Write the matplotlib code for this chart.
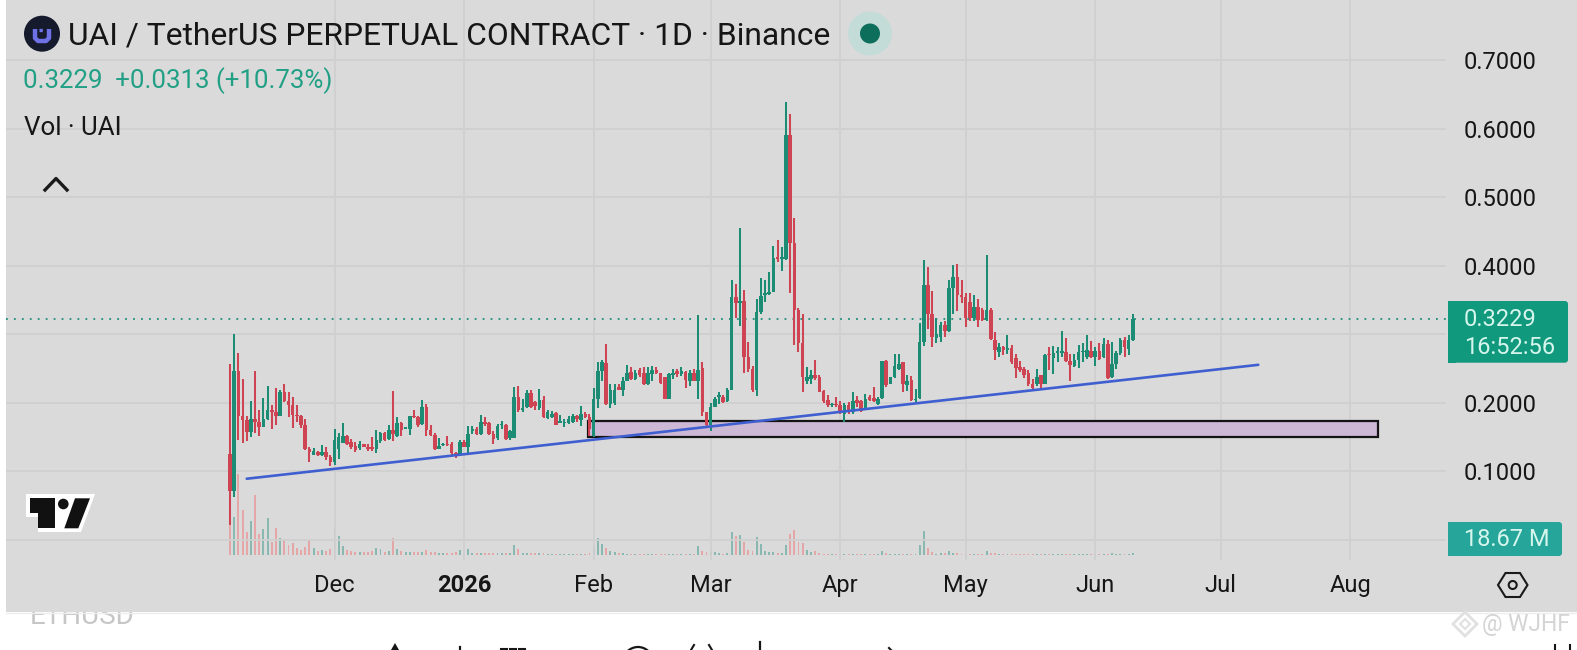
import matplotlib
matplotlib.use("Agg")
import matplotlib.pyplot as plt
from matplotlib.patches import Polygon, Circle, Rectangle, FancyBboxPatch
import numpy as np

plt.rcParams['font.family'] = ['Roboto', 'DejaVu Sans']

W, H = 1577, 650
SYMBOL = "UAI / TetherUS PERPETUAL CONTRACT · 1D · Binance"
QUOTE = "0.3229  +0.0313 (+10.73%)"
VOL_NAME = "Vol · UAI"
LAST_PRICE = 0.3229

opens = [
 .125,.071,.246,.181,.175,.157,.176,.172,.165,.176,.190,.187,.181,.216,.202,.196,.182,.180,.168,.133,
 .124,.128,.124,.128,.121,.113,.133,.141,.151,.142,.137,.134,.139,.136,.135,.133,.144,.156,.147,.160,
 .152,.170,.162,.162,.181,.179,.169,.193,.160,.153,.133,.138,.140,.140,.126,.125,.143,.136,.158,.161,
 .154,.172,.170,.154,.148,.167,.168,.148,.148,.208,.189,.193,.214,.201,.192,.204,.177,.179,.185,.171,
 .170,.171,.172,.180,.175,.184,.179,.151,.206,.247,.258,.198,.200,.223,.218,.232,.245,.234,.248,.244,
 .227,.242,.248,.243,.237,.206,.240,.247,.242,.245,.232,.243,.232,.250,.187,.167,.194,.209,.209,.202,
 .218,.354,.346,.349,.267,.249,.219,.332,.357,.359,.362,.412,.410,.410,.591,.433,.335,.287,.231,.235,
 .241,.238,.217,.204,.196,.198,.196,.184,.196,.187,.204,.202,.191,.209,.207,.198,.207,.261,.228,.237,
 .249,.259,.226,.233,.204,.207,.288,.372,.329,.294,.296,.313,.304,.368,.384,.357,.355,.347,.323,.340,
 .335,.321,.335,.292,.274,.282,.277,.280,.265,.252,.249,.243,.228,.227,.240,.228,.270,.265,.273,.272,
 .274,.261,.254,.262,.274,.266,.275,.266,.275,.266,.285,.238,.257,.272,.291,.278,.2916]
highs = [
 .257,.300,.272,.234,.181,.203,.247,.190,.207,.225,.197,.222,.218,.228,.216,.209,.196,.182,.176,.136,
 .134,.130,.138,.135,.123,.162,.156,.171,.153,.147,.142,.144,.140,.140,.150,.160,.157,.157,.168,.217,
 .179,.172,.165,.181,.189,.181,.204,.198,.167,.156,.149,.141,.152,.142,.128,.146,.146,.166,.166,.164,
 .182,.179,.172,.158,.169,.174,.169,.160,.223,.225,.205,.219,.219,.203,.220,.210,.189,.188,.187,.182,
 .176,.180,.183,.182,.195,.187,.184,.222,.260,.263,.286,.227,.227,.227,.238,.255,.252,.248,.250,.252,
 .252,.253,.252,.244,.238,.243,.249,.249,.252,.247,.248,.249,.328,.260,.187,.199,.209,.215,.211,.222,
 .379,.373,.455,.365,.289,.254,.351,.382,.379,.391,.429,.438,.427,.639,.621,.469,.338,.330,.252,.248,
 .263,.241,.218,.211,.199,.209,.202,.199,.201,.215,.210,.204,.212,.211,.223,.209,.261,.262,.238,.271,
 .271,.260,.241,.239,.220,.317,.408,.398,.363,.324,.318,.319,.379,.401,.403,.379,.360,.360,.357,.351,
 .338,.416,.338,.303,.287,.283,.299,.284,.271,.261,.252,.248,.234,.249,.241,.271,.282,.283,.282,.305,
 .294,.271,.271,.284,.287,.299,.290,.282,.287,.295,.292,.289,.275,.294,.296,.299,.330]
lows = [
 .021,.062,.146,.141,.144,.150,.156,.151,.165,.175,.161,.167,.181,.201,.179,.163,.172,.163,.131,.114,
 .123,.122,.122,.116,.107,.109,.118,.141,.138,.133,.128,.131,.135,.129,.129,.126,.141,.144,.146,.144,
 .150,.151,.161,.153,.177,.165,.168,.152,.152,.131,.133,.137,.137,.124,.120,.124,.135,.126,.155,.153,
 .153,.166,.153,.140,.146,.161,.146,.146,.148,.187,.187,.192,.192,.189,.189,.177,.176,.177,.167,.171,
 .164,.169,.171,.172,.166,.177,.151,.150,.192,.231,.197,.192,.197,.218,.210,.231,.233,.233,.238,.226,
 .226,.232,.242,.228,.205,.205,.234,.238,.239,.221,.224,.231,.206,.180,.165,.158,.193,.198,.200,.201,
 .218,.323,.312,.243,.245,.216,.210,.330,.347,.357,.361,.406,.392,.408,.360,.284,.274,.216,.228,.228,
 .233,.215,.199,.193,.194,.194,.183,.172,.184,.184,.194,.187,.189,.202,.201,.196,.206,.223,.227,.236,
 .248,.215,.217,.202,.201,.206,.283,.308,.282,.287,.288,.296,.303,.330,.334,.345,.310,.320,.320,.310,
 .319,.319,.291,.263,.267,.270,.271,.257,.236,.245,.236,.225,.218,.225,.222,.227,.248,.242,.260,.267,
 .260,.232,.252,.251,.260,.264,.265,.254,.262,.265,.234,.236,.249,.269,.267,.269,.290]
closes = [
 .071,.246,.181,.175,.157,.176,.172,.165,.176,.190,.187,.181,.216,.202,.196,.182,.180,.168,.133,.128,
 .129,.124,.128,.121,.113,.146,.150,.151,.140,.136,.131,.139,.136,.133,.133,.146,.156,.146,.160,.155,
 .170,.160,.164,.180,.179,.168,.193,.160,.153,.133,.137,.140,.138,.126,.123,.143,.136,.155,.161,.154,
 .172,.169,.154,.147,.166,.169,.147,.159,.208,.189,.192,.214,.193,.195,.204,.179,.187,.184,.168,.173,
 .172,.176,.180,.176,.183,.179,.161,.206,.247,.260,.198,.218,.219,.219,.232,.243,.234,.244,.240,.227,
 .244,.248,.243,.229,.206,.242,.243,.242,.247,.233,.243,.232,.248,.187,.167,.194,.205,.209,.201,.218,
 .354,.346,.349,.267,.249,.219,.332,.356,.360,.362,.411,.410,.412,.591,.433,.335,.287,.238,.238,.240,
 .236,.216,.202,.197,.198,.196,.186,.196,.186,.202,.200,.188,.206,.204,.202,.206,.261,.226,.237,.254,
 .257,.227,.231,.204,.206,.288,.372,.329,.296,.300,.313,.304,.368,.384,.357,.355,.323,.323,.340,.321,
 .321,.335,.293,.277,.282,.277,.280,.260,.250,.248,.240,.227,.221,.238,.228,.270,.269,.272,.275,.275,
 .261,.255,.262,.274,.275,.277,.266,.275,.264,.285,.236,.257,.273,.291,.282,.291,.3229]

# volume in millions
volumes = [
 380,380,810,450,230,340,600,210,260,370,130,270,170,160,100,120,70,50,80,150,
 70,40,50,40,60,270,190,90,50,40,30,30,30,30,40,70,60,30,40,170,
 60,40,30,30,30,30,30,50,30,30,20,20,20,20,30,50,25,60,20,20,
 20,20,20,20,20,20,20,20,100,60,20,20,20,20,20,20,15,15,15,15,
 15,15,15,15,15,15,20,80,170,110,70,40,30,20,20,15,15,15,15,15,
 15,15,15,15,15,15,15,15,15,15,15,10,90,40,30,40,30,20,10,20,
 230,190,200,130,50,40,180,110,40,30,30,20,20,100,210,250,130,120,50,30,
 40,20,15,15,15,15,15,15,15,15,15,15,15,15,15,15,40,25,15,15,
 15,15,15,15,15,100,240,70,30,15,20,20,40,25,20,15,15,15,15,15,
 15,40,25,20,15,15,15,15,15,15,15,15,15,15,15,15,15,15,15,15,
 15,15,15,15,15,15,15,15,15,15,15,20,15,15,15,15,18.67]

date_ticks = [25, 56, 87, 115, 146, 176, 207, 237, 268]
date_labels = ["Dec", "2026", "Feb", "Mar", "Apr", "May", "Jun", "Jul", "Aug"]
price_ticks = [0.0, 0.1, 0.2, 0.3, 0.4, 0.5, 0.6, 0.7]
price_labels = ["", "0.1000", "0.2000", "", "0.4000", "0.5000", "0.6000", "0.7000"]

trend_x = [4, 246]
trend_y = [0.089, 0.2553]
zone_x = [85.7, 274.7]
zone_y = [0.150, 0.1733]

BG = "#DADADA"
GRID = "#D0D0D0"
UP = "#1C8C74"
DOWN = "#CF4453"
UP_V = "#88B8B0"
DOWN_V = "#E4A6A6"
INK = "#161616"

fig = plt.figure(figsize=(W / 100, H / 100), dpi=100, facecolor="white")

# page layer in pixels
page = fig.add_axes([0, 0, 1, 1], zorder=0)
page.set_xlim(0, W); page.set_ylim(H, 0); page.axis("off")
page.text(82.5, 616, "ETHUSD", color="#C6C6C6", fontsize=20, ha="center", va="center", zorder=1)
page.add_patch(Rectangle((6, 0), W - 6, 612, fc=BG, ec="none", zorder=2))
page.plot([6, W], [612.5, 612.5], color="#EDEDED", lw=1, zorder=2)
page.text(1526, 625, "@ WJHF", color="#D4D4D4", fontsize=16.5, ha="center", va="center", zorder=3)
page.add_patch(Polygon([(1465, 612), (1477, 624), (1465, 636), (1453, 624)], closed=True,
                       fc="none", ec="#E0E0E0", lw=2, zorder=3))
page.add_patch(Polygon([(1465, 619), (1470, 624), (1465, 629), (1460, 624)], closed=True,
                       fc="none", ec="#E0E0E0", lw=1.5, zorder=3))
# tops of the toolbar icons cut off by the lower edge
ICON = "#161616"
page.add_patch(Polygon([(395, 643), (399, 650), (391, 650)], fc=ICON, ec="none", zorder=3))
page.plot([460, 460], [647, 650], color=ICON, lw=1.6, zorder=3)
for xi in (504, 513, 522):
    page.plot([xi - 3, xi + 3], [648.5, 648.5], color=ICON, lw=1.5, zorder=3)
page.add_patch(Circle((638, 662), 15, fc="none", ec=ICON, lw=1.6, zorder=3))
page.plot([694, 691], [645, 650], color=ICON, lw=1.5, zorder=3)
page.plot([709, 712], [645, 650], color=ICON, lw=1.5, zorder=3)
page.plot([760, 760], [642, 650], color=ICON, lw=1.6, zorder=3)
page.plot([889, 891], [648, 650], color=ICON, lw=1.5, zorder=3)
page.plot([1555, 1555], [645, 650], color=ICON, lw=1.5, zorder=3)
page.plot([1570, 1570], [645, 650], color=ICON, lw=1.5, zorder=3)

# candlestick axes
L, R, T, B = 6, 1446, 0, 560
ax = fig.add_axes([L / W, 1 - B / H, (R - L) / W, (B - T) / H], zorder=2)
ax.patch.set_alpha(0)
ax.set_xlim((L - 230) / 4.18, (R - 230) / 4.18)
ax.set_ylim((539.7 - B) / 685, (539.7 - T) / 685)
for s in ax.spines.values():
    s.set_visible(False)
ax.yaxis.tick_right()
ax.set_yticks(price_ticks, price_labels)
ax.set_xticks(date_ticks, date_labels)
ax.tick_params(axis="y", length=0, pad=13, labelsize=17, labelcolor=INK)
ax.tick_params(axis="x", length=0, pad=10, labelsize=17, labelcolor=INK)
ax.get_xticklabels()[1].set_fontweight("bold")
ax.grid(True, color=GRID, lw=1.3, zorder=0)
ax.set_axisbelow(True)

# volume pane, same box
vax = fig.add_axes(ax.get_position(), zorder=1)
vax.patch.set_alpha(0)
vax.axis("off")
vax.set_xlim(ax.get_xlim())
vax.set_ylim(-50, 5550)

idx = np.arange(len(closes))
o, h, l, c = map(np.array, (opens, highs, lows, closes))
up = c >= o
colors = np.where(up, UP, DOWN)
vcolors = np.where(up, UP_V, DOWN_V)
vax.bar(idx, volumes, width=0.46, color=vcolors, linewidth=0)

ax.add_patch(Rectangle((zone_x[0], zone_y[0]), zone_x[1] - zone_x[0], zone_y[1] - zone_y[0],
                       fc="#CDB9D6", ec="#141414", lw=1.6, zorder=2))
ax.vlines(idx, l, h, colors=colors, lw=1.45, zorder=3)
ax.bar(idx, np.maximum(np.abs(c - o), 0.002), bottom=np.minimum(o, c), width=0.86,
       color=colors, linewidth=0, zorder=3)
ax.plot(trend_x, trend_y, color="#3F5FD0", lw=1.9, zorder=4, solid_capstyle="round")
ax.axhline(LAST_PRICE, color="#1E8F78", lw=1.3, linestyle=(0, (1, 3.4)), zorder=2)

# overlay in pixels
top = fig.add_axes([0, 0, 1, 1], zorder=5)
top.set_xlim(0, W); top.set_ylim(H, 0); top.axis("off"); top.patch.set_alpha(0)
top.add_patch(Circle((42, 33.7), 18, fc="#151A2C", ec="none"))
top.plot([35, 35, 38, 46, 49, 49], [29, 38, 41, 41, 38, 29], color="#6E72E6", lw=3.2, solid_capstyle="butt")
top.plot([38.5, 45.5], [30, 30], color="#6E72E6", lw=2.4, linestyle=(0, (1, 1.6)))
top.text(68, 36, SYMBOL, color=INK, fontsize=22.83, va="center", ha="left")
top.add_patch(Circle((870, 33.5), 22, fc="#C4DCD8", ec="none"))
top.add_patch(Circle((870, 33.5), 10, fc="#0E6E5C", ec="none"))
top.text(23, 81, QUOTE, color="#22A086", fontsize=18.6, va="center", ha="left")
top.text(24.5, 128, VOL_NAME, color=INK, fontsize=18.6, va="center", ha="left")
top.plot([45, 56, 67], [190, 178.5, 190], color="#1A1A1A", lw=2.4)

# TradingView mark
top.add_patch(Polygon([(26, 494), (95, 494), (81, 532), (38, 532), (38, 517), (26, 517)], fc="white", ec="none"))
top.add_patch(Polygon([(30, 498.3), (55, 498.3), (55, 528.3), (38.3, 528.3), (38.3, 513.3), (30, 513.3)], fc="#111111", ec="none"))
top.add_patch(Circle((63.3, 504), 5.3, fc="#111111", ec="none"))
top.add_patch(Polygon([(75, 498.3), (90, 498.3), (78.3, 528.3), (64.3, 528.3)], fc="#111111", ec="none"))

# last-price tags
top.add_patch(FancyBboxPatch((1448, 301), 120, 61.7, boxstyle="round,pad=0,rounding_size=3", fc="#11997E", ec="none"))
top.add_patch(Rectangle((1448, 301), 8, 61.7, fc="#11997E", ec="none"))
top.text(1464, 320, "0.3229", color="#D6F5EC", fontsize=17, va="center", ha="left")
top.text(1464, 348, "16:52:56", color="#D6F5EC", fontsize=17, va="center", ha="left")
top.add_patch(FancyBboxPatch((1448, 522), 114, 34, boxstyle="round,pad=0,rounding_size=3", fc="#26A69A", ec="none"))
top.add_patch(Rectangle((1448, 522), 8, 34, fc="#26A69A", ec="none"))
top.text(1464, 540, "18.67 M", color="#D6F5EC", fontsize=17, va="center", ha="left")

# settings hexagon
top.add_patch(Polygon([(1498, 585), (1505.5, 573), (1520, 573), (1527.5, 585), (1520, 597), (1505.5, 597)],
                      fc="none", ec="#1A1A1A", lw=1.5))
top.add_patch(Circle((1512.7, 585), 4, fc="none", ec="#1A1A1A", lw=1.5))

fig.savefig("out.png", dpi=100, facecolor="white")
